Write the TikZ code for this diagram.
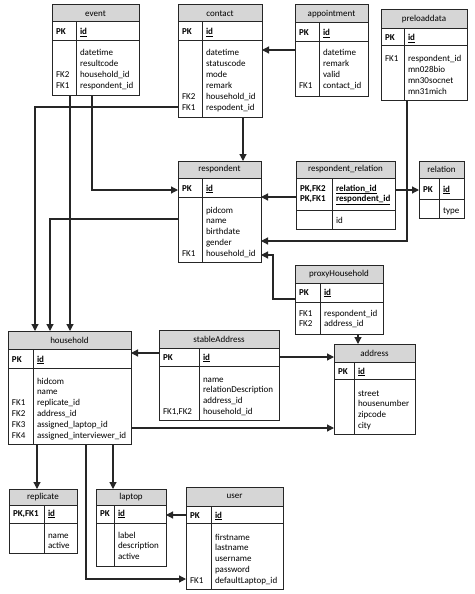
\documentclass[tikz,border=0pt]{standalone}
\usepackage{fontspec}
\setmainfont{Carlito}
\usetikzlibrary{arrows.meta}
\tikzset{
 bd/.style={draw=black!85, line width=1pt},
 hdr/.style={bd, fill=black!16, inner sep=0, outer sep=0, font=\fontsize{9}{10.8}\selectfont},
 cell/.style={bd, fill=white, inner sep=0, outer sep=0},
 txt/.style={anchor=base west, inner sep=0, outer sep=0, font=\fontsize{9}{10.8}\selectfont},
 arr/.style={line width=1.2pt, draw=black!85, -{Triangle[length=7pt,width=7pt]}},
}
\newcommand\pkf[1]{\underline{\textbf{#1}}}
\newcommand\tbl[9]{%
 \node[hdr, minimum width={(#4)-(#2)}, minimum height={(#5)-(#3)}] (#1-h) at ({((#2)+(#4))/2},{((#3)+(#5))/2}) {#9};
 \node[cell, minimum width={(#4)-(#2)}, minimum height={(#6)-(#5)}] (#1-k) at ({((#2)+(#4))/2},{((#5)+(#6))/2}) {};
 \node[cell, minimum width={(#4)-(#2)}, minimum height={(#7)-(#6)}] (#1-b) at ({((#2)+(#4))/2},{((#6)+(#7))/2}) {};
 \draw[bd] (#8,#5) -- (#8,#7);
}
\newcommand\rows[4]{\foreach \x [count=\i from 0] in {#4} {\node[txt] (#3\i) at (#1,{(#2)+\i*10.8}) {\x};}}
\begin{document}
\begin{tikzpicture}[x=1pt,y=-1pt]
\fill[white] (0,0) rectangle (474,594);
\useasboundingbox (0,0) rectangle (474,594);

% event
\tbl{event}{52}{5}{139}{22}{41}{95}{76}{event}
\rows{56}{35}{event-kk}{\textbf{PK}}
\rows{80}{35}{event-p}{\pkf{id}}
\rows{80}{56}{event-f}{datetime,resultcode,household\_id,respondent\_id}
\rows{56}{77.6}{event-x}{FK2,FK1}

% contact
\tbl{contact}{178}{5}{262}{22}{41}{117}{202}{contact}
\rows{182}{35}{contact-kk}{\textbf{PK}}
\rows{206}{35}{contact-p}{\pkf{id}}
\rows{206}{56}{contact-f}{datetime,statuscode,mode,remark,household\_id,respodent\_id}
\rows{182}{99.2}{contact-x}{FK2,FK1}

% appointment
\tbl{appointment}{295}{5}{368}{23}{42}{96}{319}{appointment}
\rows{299}{36}{appointment-kk}{\textbf{PK}}
\rows{323}{36}{appointment-p}{\pkf{id}}
\rows{323}{56}{appointment-f}{datetime,remark,valid,contact\_id}
\rows{299}{88.4}{appointment-x}{FK1}

% preloaddata
\tbl{preloaddata}{381}{10}{467}{29}{46}{100}{404}{preloaddata}
\rows{385}{41}{preloaddata-kk}{\textbf{PK}}
\rows{408}{41}{preloaddata-p}{\pkf{id}}
\rows{408}{62}{preloaddata-f}{respondent\_id,mn028bio,mn30socnet,mn31mich}
\rows{385}{62}{preloaddata-x}{FK1}

% respondent
\tbl{respondent}{178}{161}{261}{178}{197}{262}{202}{respondent}
\rows{182}{191}{respondent-kk}{\textbf{PK}}
\rows{206}{191}{respondent-p}{\pkf{id}}
\rows{206}{213}{respondent-f}{pidcom,name,birthdate,gender,household\_id}
\rows{182}{256.2}{respondent-x}{FK1}

% respondent_relation
\tbl{rr}{296}{161}{395}{178}{210}{229}{332}{respondent\_relation}
\rows{300}{191}{rr-kk}{{\textbf{PK,FK2}},{\textbf{PK,FK1}}}
\rows{336}{191}{rr-p}{\pkf{relation\_id},\pkf{respondent\_id}}
\rows{336}{223}{rr-f}{id}

% relation
\tbl{relation}{419}{161}{464}{178}{199}{218}{439}{relation}
\rows{423}{192}{relation-kk}{\textbf{PK}}
\rows{443}{192}{relation-p}{\pkf{id}}
\rows{443}{213}{relation-f}{type}

% proxyHousehold
\tbl{proxy}{295}{265}{383}{283}{302}{334}{320}{proxyHousehold}
\rows{299}{295}{proxy-kk}{\textbf{PK}}
\rows{324}{295}{proxy-p}{\pkf{id}}
\rows{324}{316}{proxy-f}{respondent\_id,address\_id}
\rows{299}{316}{proxy-x}{FK1,FK2}

% address
\tbl{address}{334}{344}{415}{362}{379}{434}{354}{address}
\rows{338}{374}{address-kk}{\textbf{PK}}
\rows{358}{374}{address-p}{\pkf{id}}
\rows{358}{396}{address-f}{street,housenumber,zipcode,city}

% stableAddress
\tbl{stable}{159}{330}{279}{348}{366}{420}{199}{stableAddress}
\rows{163}{360}{stable-kk}{\textbf{PK}}
\rows{203}{360}{stable-p}{\pkf{id}}
\rows{203}{382}{stable-f}{name,relationDescription,address\_id,household\_id}
\rows{163}{414.4}{stable-x}{{FK1,FK2}}

% household
\tbl{household}{8}{331}{131}{349}{368}{444}{33}{household}
\rows{12}{362}{household-kk}{\textbf{PK}}
\rows{37}{362}{household-p}{\pkf{id}}
\rows{37}{384}{household-f}{hidcom,name,replicate\_id,address\_id,assigned\_laptop\_id,assigned\_interviewer\_id}
\rows{12}{405.6}{household-x}{FK1,FK2,FK3,FK4}

% replicate
\tbl{replicate}{9}{489}{77}{505}{523}{553}{44}{replicate}
\rows{13}{516}{replicate-kk}{{\textbf{PK,FK1}}}
\rows{48}{516}{replicate-p}{\pkf{id}}
\rows{48}{538}{replicate-f}{name,active}

% laptop
\tbl{laptop}{96}{489}{166}{505}{523}{566}{114}{laptop}
\rows{100}{516}{laptop-kk}{\textbf{PK}}
\rows{118}{516}{laptop-p}{\pkf{id}}
\rows{118}{538}{laptop-f}{label,description,active}

% user
\tbl{user}{186}{487}{283}{506}{523}{589}{211}{user}
\rows{190}{518}{user-kk}{\textbf{PK}}
\rows{215}{518}{user-p}{\pkf{id}}
\rows{215}{540}{user-f}{firstname,lastname,username,password,defaultLaptop\_id}
\rows{190}{583.2}{user-x}{FK1}

% connectors
\draw[arr] (appointment-b.west |- 0,50) -- (contact-b.east |- 0,50);
\draw[arr] (contact-b.south -| 243,0) -- (respondent-h.north -| 243,0);
\draw[arr] (event-b.south -| 92,0) |- (respondent-k.west |- 0,190);
\draw[arr] (event-b.south -| 70,0) -- (household-h.north -| 70,0);
\draw[arr] (contact-b.west |- 0,107) -| (household-h.north -| 35,0);
\draw[arr] (respondent-b.west |- 0,219) -| (household-h.north -| 50,0);
\draw[arr] (preloaddata-b.south -| 407,0) |- (respondent-b.east |- 0,241);
\draw[arr] (rr-k.west |- 0,197) -- (respondent-k.east |- 0,197);
\draw[arr] (rr-k.east |- 0,190) -- (relation-k.west |- 0,190);
\draw[arr] (proxy-k.west |- 0,299) -| (273,255) -- (respondent-b.east |- 0,255);
\draw[arr] (proxy-b.south -| 358,0) -- (address-h.north -| 358,0);
\draw[arr] (stable-k.west |- 0,353) -- (household-k.east |- 0,353);
\draw[arr] (stable-k.east |- 0,357) -- (address-h.west |- 0,357);
\draw[arr] (household-b.east |- 0,428) -- (address-b.west |- 0,428);
\draw[arr] (household-b.south -| 37,0) -- (replicate-h.north -| 37,0);
\draw[arr] (household-b.south -| 113,0) -- (laptop-h.north -| 113,0);
\draw[arr] (household-b.south -| 86,0) |- (user-b.west |- 0,579);
\draw[arr] (user-k.west |- 0,515) -- (laptop-k.east |- 0,515);
\end{tikzpicture}
\end{document}
